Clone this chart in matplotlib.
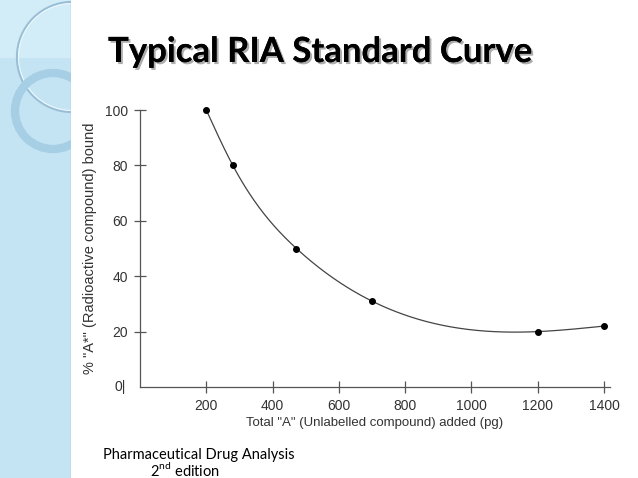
import numpy as np
import matplotlib.pyplot as plt
from matplotlib.patches import Rectangle, Circle
import matplotlib.patheffects as pe

# data
x_pg = [200, 280, 472, 700, 1200, 1400]
pct_bound = [100, 80, 50, 31, 20, 22]
x_ticks = [200, 400, 600, 800, 1000, 1200, 1400]
y_ticks = [20, 40, 60, 80, 100]


def natural_spline(x, y, xs):
    # natural cubic spline through the standards
    x = np.asarray(x, float)
    y = np.asarray(y, float)
    n = len(x)
    h = np.diff(x)
    A = np.zeros((n, n))
    r = np.zeros(n)
    A[0, 0] = A[-1, -1] = 1
    for i in range(1, n - 1):
        A[i, i - 1] = h[i - 1]
        A[i, i] = 2 * (h[i - 1] + h[i])
        A[i, i + 1] = h[i]
        r[i] = 6 * ((y[i + 1] - y[i]) / h[i] - (y[i] - y[i - 1]) / h[i - 1])
    m = np.linalg.solve(A, r)
    k = np.clip(np.searchsorted(x, xs) - 1, 0, n - 2)
    t0 = x[k + 1] - xs
    t1 = xs - x[k]
    hk = h[k]
    return (m[k] * t0 ** 3 / (6 * hk) + m[k + 1] * t1 ** 3 / (6 * hk)
            + (y[k] / hk - m[k] * hk / 6) * t0 + (y[k + 1] / hk - m[k + 1] * hk / 6) * t1)


fig = plt.figure(figsize=(6.38, 4.78), dpi=100)
W, H = 638, 478

# left decorative panel of the slide
panel = fig.add_axes([0, 0, 71 / W, 1])
panel.set_xlim(0, 71)
panel.set_ylim(H, 0)
panel.axis('off')
panel.add_patch(Rectangle((0, 0), 71, H, color='#c4e4f4'))
panel.add_patch(Rectangle((0, 0), 71, 57, color='#d2ecf8'))
panel.add_patch(Circle((72, 57), 55, fill=False, ec='#98bfd6', lw=1.6))
panel.add_patch(Circle((72, 57), 53.5, fill=False, ec='#eef8fc', lw=0.8))
panel.add_patch(Circle((53, 111), 38, fill=False, ec='#a6cfe5', lw=6))
panel.axvline(70.5, color='#a9cfe2', lw=1)

# title
fig.text(108 / W, 1 - 52 / H, 'Typical RIA Standard Curve', fontsize=25,
         fontweight='bold', family='Lato', va='center', ha='left',
         path_effects=[pe.withSimplePatchShadow(offset=(1.5, -1.5), shadow_rgbFace='#999999', alpha=0.8),
                       pe.Normal()])

# footer
fig.text(103 / W, 1 - 455 / H, 'Pharmaceutical Drug Analysis', fontsize=10.5,
         family='Lato', va='center', ha='left')
fig.text(150 / W, 1 - 470 / H, r'2$^{\mathregular{nd}}$ edition', fontsize=10.5,
         family='Lato', va='center', ha='left')

ax = fig.add_axes([140 / W, 91 / H, 470 / W, 277 / H])
ax.set_xlim(0, 1418)
ax.set_ylim(0, 100)

xs = np.linspace(min(x_pg), max(x_pg), 400)
ax.plot(xs, natural_spline(x_pg, pct_bound, xs), color='#444444', lw=0.9)
ax.plot(x_pg, pct_bound, 'o', color='black', ms=4, clip_on=False)

for s in ['top', 'right']:
    ax.spines[s].set_visible(False)
for s in ['left', 'bottom']:
    ax.spines[s].set_color('#555555')
    ax.spines[s].set_linewidth(0.9)

ax.set_xticks(x_ticks)
ax.set_yticks(y_ticks)
ax.tick_params(direction='inout', length=9, width=0.9, color='#555555',
               labelsize=10, labelcolor='#333333', pad=4)
for lab in ax.get_xticklabels() + ax.get_yticklabels():
    lab.set_family('Liberation Sans')
ax.text(-0.03, 0.0, '0|', transform=ax.transAxes, fontsize=10, color='#333333',
        family='Liberation Sans', ha='right', va='center')

ax.set_xlabel('Total "A" (Unlabelled compound) added (pg)', fontsize=9.5,
              family='Liberation Sans', color='#333333', labelpad=3)
ax.set_ylabel('% "A*" (Radioactive compound) bound', fontsize=10.5,
              family='Liberation Sans', color='#333333', labelpad=6)

fig.savefig('out.png', dpi=100)
